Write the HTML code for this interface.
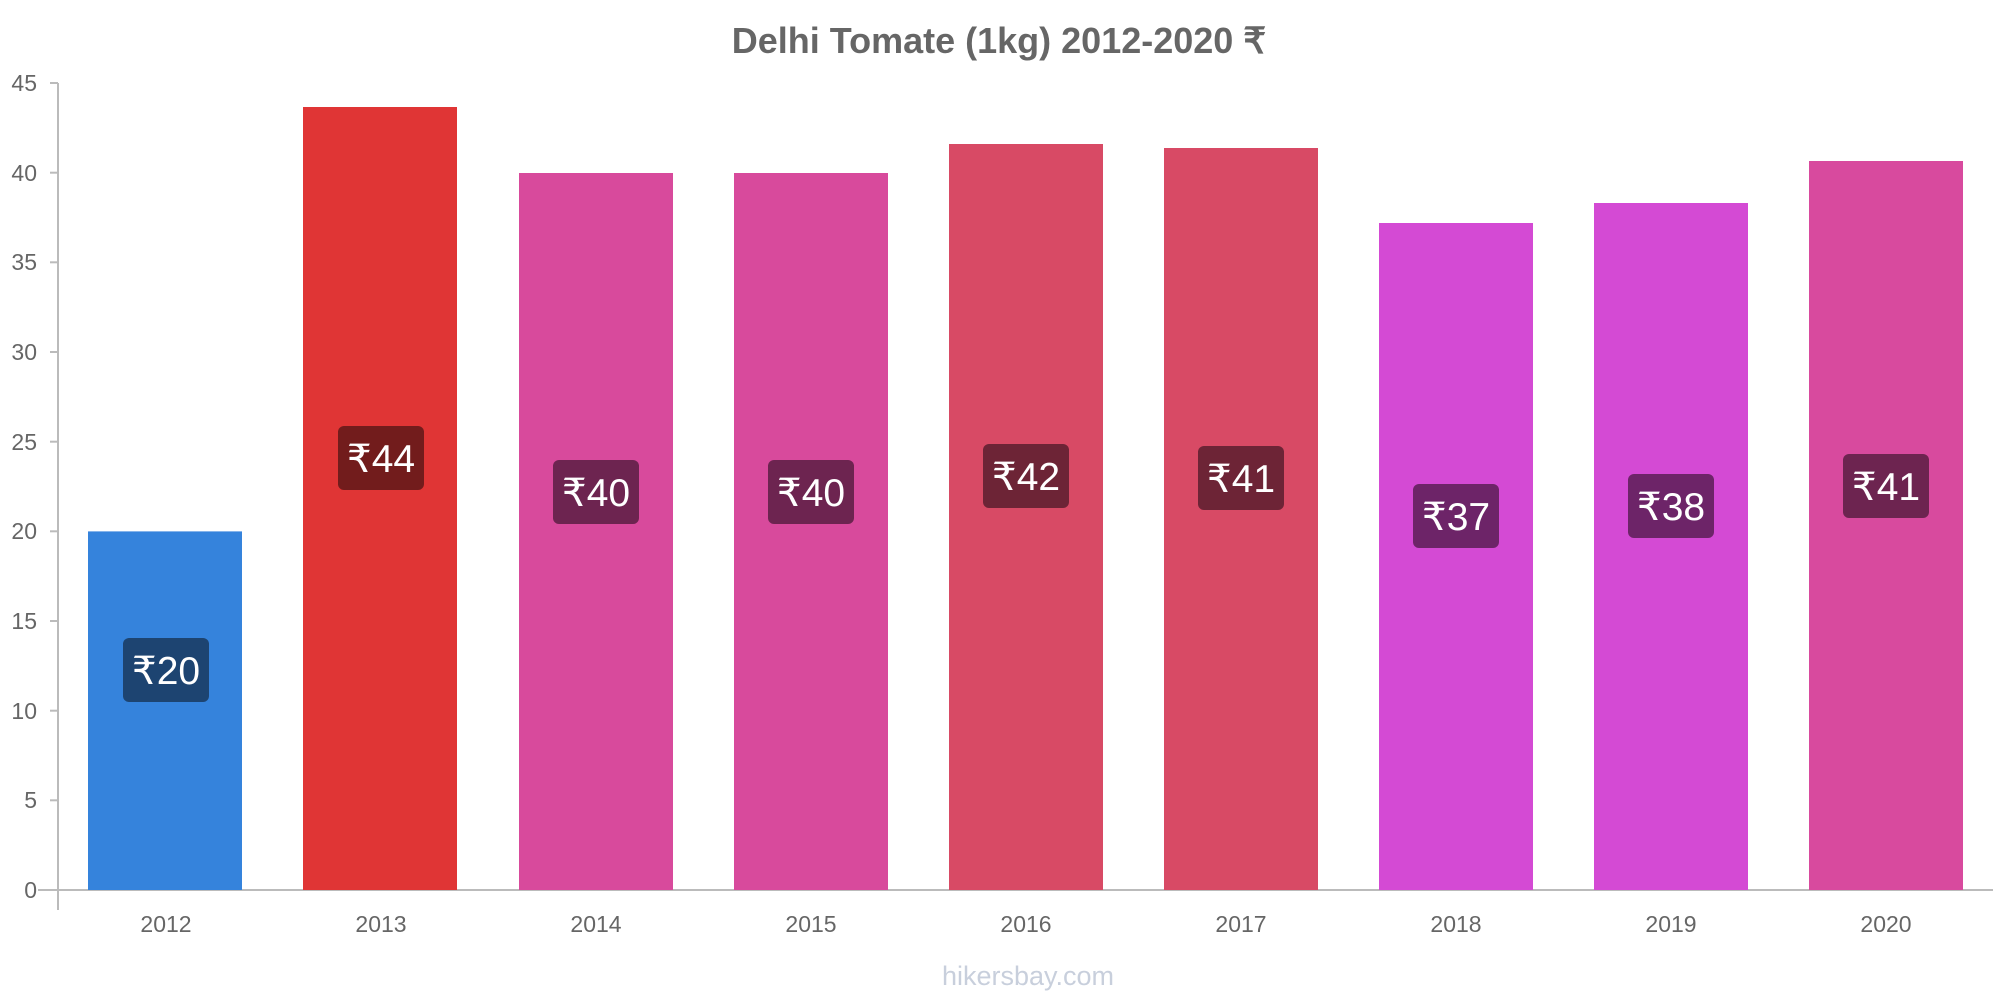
<!DOCTYPE html>
<html><head><meta charset="utf-8"><style>
html,body{margin:0;padding:0;background:#fff;}
svg{display:block;font-family:"Liberation Sans",sans-serif;}
</style></head><body>
<svg width="2000" height="1000" viewBox="0 0 2000 1000" xmlns="http://www.w3.org/2000/svg">
<text x="999" y="53" text-anchor="middle" font-size="36" font-weight="bold" fill="#666">Delhi Tomate (1kg) 2012-2020 ₹</text>
<g stroke="#bbb" stroke-width="2">
<line x1="58" y1="83" x2="58" y2="910"/>
<line x1="38" y1="890" x2="1993" y2="890"/>
<line x1="50" y1="800.3" x2="58" y2="800.3"/>
<line x1="50" y1="710.7" x2="58" y2="710.7"/>
<line x1="50" y1="621" x2="58" y2="621"/>
<line x1="50" y1="531.3" x2="58" y2="531.3"/>
<line x1="50" y1="441.7" x2="58" y2="441.7"/>
<line x1="50" y1="352" x2="58" y2="352"/>
<line x1="50" y1="262.3" x2="58" y2="262.3"/>
<line x1="50" y1="172.7" x2="58" y2="172.7"/>
<line x1="50" y1="83" x2="58" y2="83"/>
</g>
<g font-size="23" fill="#666" text-anchor="end">
<text x="37" y="898">0</text><text x="37" y="808">5</text><text x="37" y="719">10</text>
<text x="37" y="629">15</text><text x="37" y="539">20</text><text x="37" y="450">25</text>
<text x="37" y="360">30</text><text x="37" y="270">35</text><text x="37" y="181">40</text>
<text x="37" y="91">45</text>
</g>
<g>
<rect x="88" y="531.4" width="154" height="358.6" fill="#3583dc"/>
<rect x="303" y="107" width="154" height="783" fill="#e03535"/>
<rect x="519" y="173" width="154" height="717" fill="#d84a9c"/>
<rect x="734" y="173" width="154" height="717" fill="#d84a9c"/>
<rect x="949" y="144" width="154" height="746" fill="#d84a65"/>
<rect x="1164" y="148" width="154" height="742" fill="#d84a65"/>
<rect x="1379" y="223" width="154" height="667" fill="#d44ad4"/>
<rect x="1594" y="203" width="154" height="687" fill="#d44ad4"/>
<rect x="1809" y="161" width="154" height="729" fill="#d84a9e"/>
</g>
<g>
<rect x="123" y="638" width="86" height="64" rx="6" fill="#1d4471"/>
<rect x="338" y="426" width="86" height="64" rx="6" fill="#721c1c"/>
<rect x="553" y="460" width="86" height="64" rx="6" fill="#6d2450"/>
<rect x="768" y="460" width="86" height="64" rx="6" fill="#6d2450"/>
<rect x="983" y="444" width="86" height="64" rx="6" fill="#6d2436"/>
<rect x="1198" y="446" width="86" height="64" rx="6" fill="#6d2436"/>
<rect x="1413" y="484" width="86" height="64" rx="6" fill="#6d2468"/>
<rect x="1628" y="474" width="86" height="64" rx="6" fill="#6d2468"/>
<rect x="1843" y="454" width="86" height="64" rx="6" fill="#6d2450"/>
</g>
<g font-size="39" fill="#fff" text-anchor="middle">
<text x="166" y="684">₹20</text>
<text x="381" y="472">₹44</text>
<text x="596" y="506">₹40</text>
<text x="811" y="506">₹40</text>
<text x="1026" y="490">₹42</text>
<text x="1241" y="492">₹41</text>
<text x="1456" y="530">₹37</text>
<text x="1671" y="520">₹38</text>
<text x="1886" y="500">₹41</text>
</g>
<g font-size="23" fill="#666" text-anchor="middle">
<text x="166" y="932">2012</text><text x="381" y="932">2013</text><text x="596" y="932">2014</text>
<text x="811" y="932">2015</text><text x="1026" y="932">2016</text><text x="1241" y="932">2017</text>
<text x="1456" y="932">2018</text><text x="1671" y="932">2019</text><text x="1886" y="932">2020</text>
</g>
<text x="1028" y="985" text-anchor="middle" font-size="27" fill="#c8cfdc">hikersbay.com</text>
</svg>
</body></html>
